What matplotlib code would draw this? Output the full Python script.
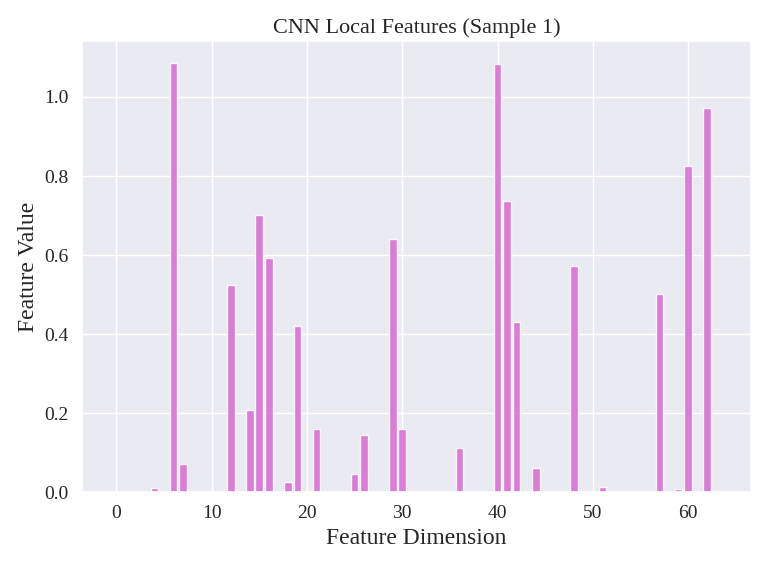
import matplotlib
matplotlib.use("Agg")
import matplotlib.pyplot as plt
import seaborn as sns
import numpy as np

sns.set_theme(style="darkgrid")
plt.rcParams['font.family'] = ['Liberation Serif', 'DejaVu Serif']

indices = [4, 6, 7, 12, 14, 15, 16, 18, 19, 21, 25, 26, 29, 30, 31, 36, 40, 41, 42, 44, 48, 51, 57, 59, 60, 62]
vals = [0.01, 1.087, 0.072, 0.524, 0.208, 0.702, 0.593, 0.025, 0.42, 0.16, 0.047, 0.144, 0.64, 0.16, 0.003,
        0.112, 1.084, 0.737, 0.43, 0.062, 0.573, 0.014, 0.501, 0.007, 0.826, 0.972]
values = np.zeros(64)
values[indices] = vals

fig, ax = plt.subplots(figsize=(7.69, 5.67), dpi=100)
ax.bar(np.arange(64), values, color='orchid', alpha=0.9)
ax.set_title("CNN Local Features (Sample 1)", fontsize=16)
ax.set_xlabel("Feature Dimension", fontsize=17)
ax.set_ylabel("Feature Value", fontsize=17)
ax.tick_params(labelsize=14)
fig.tight_layout()
fig.savefig("out.png")
